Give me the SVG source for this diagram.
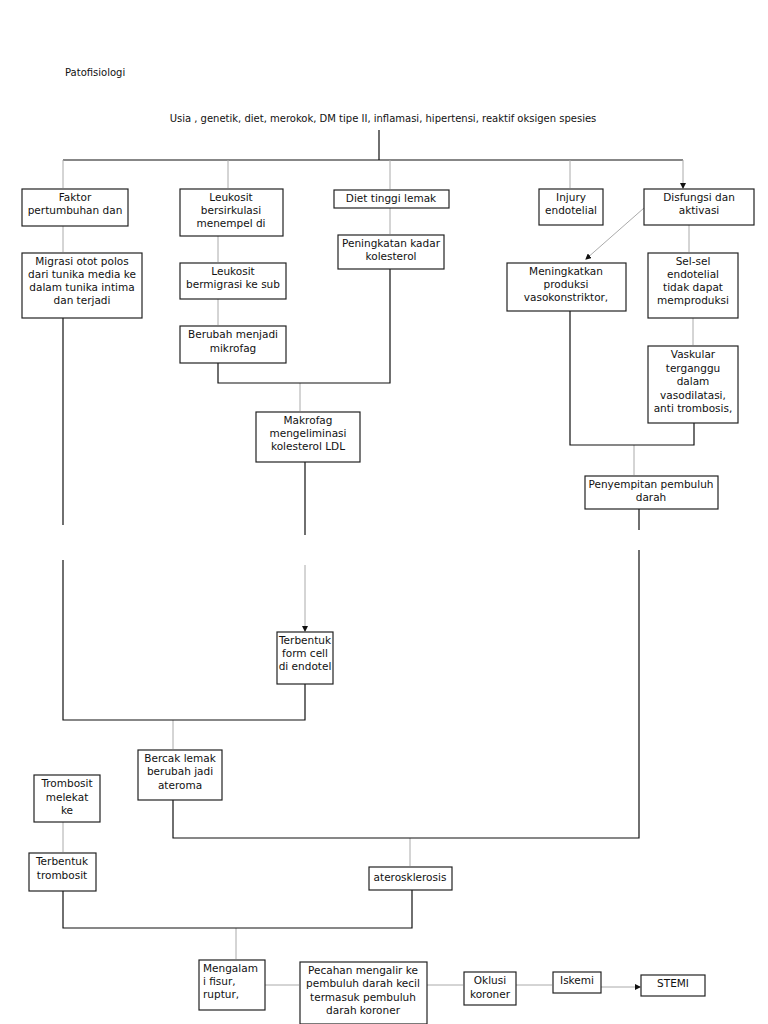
<svg xmlns="http://www.w3.org/2000/svg" width="768" height="1024" viewBox="0 0 768 1024">
<style>
rect{fill:#fff;stroke:#222;stroke-width:1.2}
text{font-family:"DejaVu Sans",sans-serif;font-size:10.5px;fill:#111;text-anchor:middle}
.k{stroke:#111;stroke-width:1.2;fill:none}
.g{stroke:#aaa;stroke-width:1;fill:none}
</style>
<defs><marker id="a" markerWidth="6" markerHeight="6" refX="5" refY="3" orient="auto" markerUnits="userSpaceOnUse"><path d="M0,0L6,3L0,6z" fill="#111"/></marker></defs>
<rect width="768" height="1024" style="fill:#fff;stroke:none"/>
<text x="65" y="76" style="text-anchor:start;font-size:10px">Patofisiologi</text>
<text x="383" y="122" style="font-size:10px">Usia , genetik, diet, merokok, DM tipe II, inflamasi, hipertensi, reaktif oksigen spesies</text>
<g id="connectors">
<path class="k" d="M379,130V160M63,160H683"/>
<path class="g" d="M63,160V188M228,160V188M390,160V189M570,160V188M683,160V188" marker-end="url(#a)"/>
<path class="g" d="M63,226V252M218,236V262M218,299V325M390,208V234M689,225V252M693,318V345M300,383V411M634,445V475M173,720V749M410,838V866M63,822V852M236,928V959M305,565V631" marker-end="url(#a)"/>
<path class="g" d="M644,208L586,259" marker-end="url(#a)"/>
<path class="k" d="M218,363V383H390V269M570,311V445H694V423M63,318V525M63,560V720H305V684M305,462V535M639,509V530M639,550V838H173V800M63,891V928H412V890"/>
<path class="g" d="M265,985H299M427,985H463M516,985H552M601,987H640" marker-end="url(#a)"/>
</g>
<g id="n1"><rect x="22" y="189" width="106" height="37"/><text x="75" y="201">Faktor</text><text x="75" y="214">pertumbuhan dan</text></g>
<g id="n2"><rect x="180" y="189" width="103" height="47"/><text x="231" y="201">Leukosit</text><text x="231" y="214">bersirkulasi</text><text x="231" y="227">menempel di</text></g>
<g id="n3"><rect x="334" y="190" width="115" height="18"/><text x="391" y="202">Diet tinggi lemak</text></g>
<g id="n4"><rect x="539" y="189" width="64" height="36"/><text x="571" y="201">Injury</text><text x="571" y="214">endotelial</text></g>
<g id="n5"><rect x="644" y="189" width="110" height="36"/><text x="699" y="201">Disfungsi dan</text><text x="699" y="214">aktivasi</text></g>
<g id="n6"><rect x="22" y="253" width="120" height="65"/><text x="82" y="265">Migrasi otot polos</text><text x="82" y="278">dari tunika media ke</text><text x="82" y="291">dalam tunika intima</text><text x="82" y="304">dan terjadi</text></g>
<g id="n7"><rect x="180" y="263" width="106" height="36"/><text x="233" y="275">Leukosit</text><text x="233" y="288">bermigrasi ke sub</text></g>
<g id="n8"><rect x="338" y="235" width="106" height="34"/><text x="391" y="247">Peningkatan kadar</text><text x="391" y="260">kolesterol</text></g>
<g id="n9"><rect x="507" y="263" width="119" height="48"/><text x="566" y="275">Meningkatkan</text><text x="566" y="288">produksi</text><text x="566" y="301">vasokonstriktor,</text></g>
<g id="n10"><rect x="648" y="253" width="90" height="65"/><text x="693" y="265">Sel-sel</text><text x="693" y="278">endotelial</text><text x="693" y="291">tidak dapat</text><text x="693" y="304">memproduksi</text></g>
<g id="n11"><rect x="180" y="326" width="106" height="37"/><text x="233" y="338">Berubah menjadi</text><text x="233" y="352">mikrofag</text></g>
<g id="n12"><rect x="648" y="346" width="90" height="77"/><text x="693" y="358">Vaskular</text><text x="693" y="372">terganggu</text><text x="693" y="385">dalam</text><text x="693" y="399">vasodilatasi,</text><text x="693" y="412">anti trombosis,</text></g>
<g id="n13"><rect x="256" y="412" width="104" height="50"/><text x="308" y="424">Makrofag</text><text x="308" y="437">mengeliminasi</text><text x="308" y="450">kolesterol LDL</text></g>
<g id="n14"><rect x="585" y="476" width="133" height="33"/><text x="651" y="488">Penyempitan pembuluh</text><text x="651" y="501">darah</text></g>
<g id="n15"><rect x="277" y="632" width="56" height="52"/><text x="305" y="644">Terbentuk</text><text x="305" y="657">form cell</text><text x="305" y="670">di endotel</text></g>
<g id="n16"><rect x="138" y="750" width="84" height="50"/><text x="180" y="762">Bercak lemak</text><text x="180" y="775">berubah jadi</text><text x="180" y="789">ateroma</text></g>
<g id="n17"><rect x="34" y="775" width="66" height="47"/><text x="67" y="787">Trombosit</text><text x="67" y="801">melekat</text><text x="67" y="814">ke</text></g>
<g id="n18"><rect x="29" y="853" width="67" height="38"/><text x="62" y="865">Terbentuk</text><text x="62" y="879">trombosit</text></g>
<g id="n19"><rect x="369" y="867" width="83" height="23"/><text x="410" y="881">aterosklerosis</text></g>
<g id="n20"><rect x="199" y="960" width="66" height="50"/><text x="203" y="972" style="text-anchor:start">Mengalam</text><text x="203" y="985" style="text-anchor:start">i fisur,</text><text x="203" y="998" style="text-anchor:start">ruptur,</text></g>
<g id="n21"><rect x="300" y="962" width="127" height="62"/><text x="363" y="974">Pecahan mengalir ke</text><text x="363" y="987">pembuluh darah kecil</text><text x="363" y="1001">termasuk pembuluh</text><text x="363" y="1014">darah koroner</text></g>
<g id="n22"><rect x="464" y="972" width="52" height="33"/><text x="490" y="984">Oklusi</text><text x="490" y="998">koroner</text></g>
<g id="n23"><rect x="553" y="972" width="48" height="21"/><text x="577" y="984">Iskemi</text></g>
<g id="n24"><rect x="641" y="975" width="64" height="21"/><text x="673" y="987">STEMI</text></g>
</svg>
